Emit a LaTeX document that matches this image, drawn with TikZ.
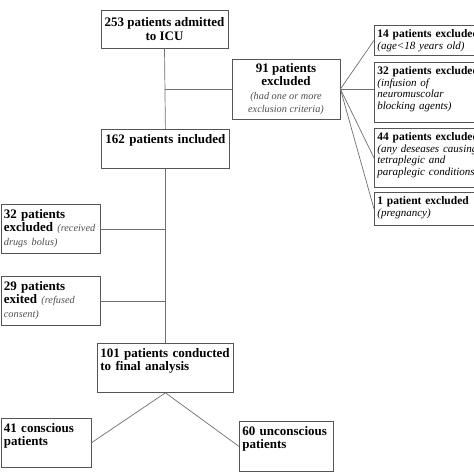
\documentclass[tikz,border=0pt]{standalone}
\usepackage{fontspec}
\setmainfont{Liberation Serif}
\definecolor{boxgray}{HTML}{555555}
\definecolor{linegray}{HTML}{707070}
\definecolor{critgray}{HTML}{505050}
\newcommand{\crit}[1]{{\fontsize{10.3}{13.3}\selectfont\mdseries\itshape\color{critgray}#1}}
\newcommand{\sidecrit}[1]{{\fontsize{11}{11.7}\selectfont\mdseries\itshape#1}}
\tikzset{
    box/.style={draw=boxgray, line width=0.8pt, font=\bfseries\fontsize{13}{13.3}\selectfont},
    topbox/.style={box, anchor=north west, align=left, inner xsep=3pt, inner ysep=5pt, text height=9pt},
    sidebox/.style={topbox, inner ysep=4pt, text height=8pt, text width=110pt, font=\bfseries\fontsize{11.5}{11.7}\selectfont},
    link/.style={draw=linegray, line width=0.7pt},
}
\begin{document}
\begin{tikzpicture}[x=1pt, y=-1pt]
    \useasboundingbox[fill=white] (0,0) rectangle (474,474);
    % main column
    \node[box, align=center, minimum width=127pt, minimum height=38pt] (b253) at (164.5,29) {253 patients admitted\\to ICU};
    \node[topbox, align=center, text width=122pt, text depth=20pt] (b162) at (101,129) {162 patients included};
    \node[topbox, text width=130pt, text depth=30pt] (b101) at (97,343) {101 patients conducted\\to final analysis};
    \node[box, align=center, minimum width=108pt, minimum height=60pt, inner sep=2pt] (b91) at (286,89)
        {91 patients\\excluded\\\crit{(had one or more}\\\crit{exclusion criteria)}};
    % left side
    \node[topbox, text width=93pt, text depth=30pt] (bdrug) at (0.5,204) {32 patients\\excluded \crit{(received}\\\crit{drugs bolus)}};
    \node[topbox, text width=93pt, text depth=30pt] (bexit) at (0.5,276) {29 patients\\exited \crit{(refused}\\\crit{consent)}};
    \node[topbox, text width=84pt, text depth=30pt] (bcons) at (0.5,418) {41 conscious\\patients};
    \node[topbox, text width=88pt, text depth=31pt] (buncons) at (239,421) {60 unconscious\\patients};
    % right side
    \node[sidebox, text depth=14pt] (bage) at (374,25) {14 patients excluded\\\sidecrit{(age<18 years old)}};
    \node[sidebox, text depth=44pt] (bnmb) at (374,62) {32 patients excluded\\\sidecrit{(infusion of}\\\sidecrit{neuromuscolar}\\\sidecrit{blocking agents)}};
    \node[sidebox, text depth=43pt] (bpara) at (374,128) {44 patients excluded\\\sidecrit{(any deseases causing}\\\sidecrit{tetraplegic and}\\\sidecrit{paraplegic conditions)}};
    \node[sidebox, text depth=17pt] (bpreg) at (374,192) {1 patient excluded\\\sidecrit{(pregnancy)}};
    % connectors
    \draw[link] (b253.south) -- (b162.north);
    \draw[link] (b162.south) -- (b101.north);
    \coordinate (j91) at (b253.south |- b91.west);
    \draw[link] (j91) -- (b91.west);
    \draw[link] (b91.east) -- (b91.east -| bnmb.west);
    \foreach \b in {bage,bpara,bpreg}
        \draw[link] (b91.east) -- (\b.west);
    \foreach \b in {bdrug,bexit}
        \draw[link] (\b.east) -- (\b.east -| b162.south);
    \draw[link] (bcons.east) -- (b101.south) -- (buncons.west);
\end{tikzpicture}
\end{document}
